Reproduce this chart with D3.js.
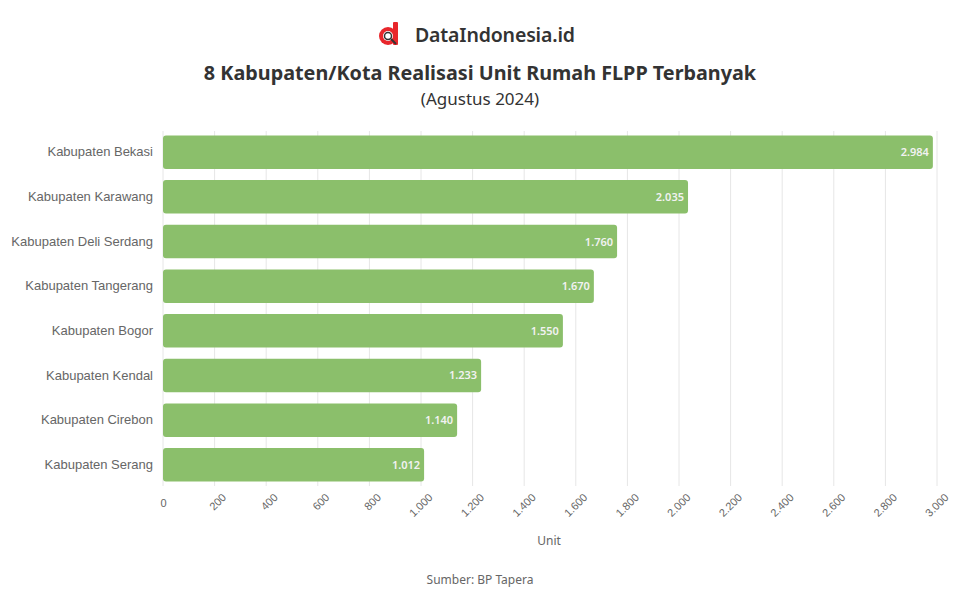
<!DOCTYPE html>
<html><head><meta charset="utf-8">
<script src="https://cdn.jsdelivr.net/npm/d3@7"></script>
<style>
body{margin:0;background:#fff;font-family:"Source Sans Pro","Noto Sans",sans-serif;}
</style></head>
<body><svg id="chart" width="960" height="600"></svg>
<script>
const categories = ["Kabupaten Bekasi","Kabupaten Karawang","Kabupaten Deli Serdang","Kabupaten Tangerang","Kabupaten Bogor","Kabupaten Kendal","Kabupaten Cirebon","Kabupaten Serang"];
const values = [2984, 2035, 1760, 1670, 1550, 1233, 1140, 1012];
const tickValues = [0,200,400,600,800,1000,1200,1400,1600,1800,2000,2200,2400,2600,2800,3000];
const titleText = "8 Kabupaten/Kota Realisasi Unit Rumah FLPP Terbanyak";
const subtitleText = "(Agustus 2024)";
const axisTitle = "Unit";
const sourceText = "Sumber: BP Tapera";

const svg = d3.select("#chart");
const fmt = d3.formatLocale({decimal:",",thousands:".",grouping:[3],currency:["",""]}).format(",");
const mLeft=163, mRight=937, mTop=131, mBottom=486;
const x = d3.scaleLinear().domain([0,3000]).range([mLeft,mRight]);
const y = d3.scaleBand().domain(categories).range([mTop,mBottom]).paddingInner(0.25).paddingOuter(0.1);

// logo
const logo = svg.append("g").attr("transform","translate(388,35)");
logo.append("circle").attr("r",9).attr("cx",0).attr("cy",1).attr("fill","#e8262b");
logo.append("rect").attr("x",5).attr("y",-13).attr("width",5).attr("height",23).attr("rx",1).attr("fill","#e8262b");
logo.append("circle").attr("r",5).attr("cx",0).attr("cy",1).attr("fill","#fff");
logo.append("circle").attr("r",3.5).attr("cx",0).attr("cy",1).attr("fill","none").attr("stroke","#333").attr("stroke-width",1.5);
logo.append("line").attr("x1",3).attr("y1",4).attr("x2",8).attr("y2",9).attr("stroke","#333").attr("stroke-width",2);
svg.append("text").attr("x",415).attr("y",42).attr("font-size",19.5).attr("font-weight",600).attr("fill","#333").attr("textLength",160).text("DataIndonesia.id");

svg.append("text").attr("x",480).attr("y",80).attr("text-anchor","middle").attr("font-size",19.8).attr("font-weight",700).attr("fill","#333").text(titleText);
svg.append("text").attr("x",480).attr("y",105).attr("text-anchor","middle").attr("font-size",17).attr("fill","#333").text(subtitleText);

// grid
svg.append("g").selectAll("line").data(tickValues).join("line")
  .attr("x1",d=>x(d)).attr("x2",d=>x(d)).attr("y1",mTop).attr("y2",mBottom)
  .attr("stroke","#e6e6e6").attr("stroke-width",1);

// bars
svg.append("g").selectAll("rect").data(values).join("rect")
  .attr("x",x(0)).attr("y",(d,i)=>y(categories[i]))
  .attr("width",d=>x(d)-x(0)).attr("height",y.bandwidth())
  .attr("rx",3).attr("fill","#8bbf6b");

svg.append("g").selectAll("text").data(values).join("text")
  .attr("x",d=>x(d)-4).attr("y",(d,i)=>y(categories[i])+y.bandwidth()/2+4)
  .attr("text-anchor","end").attr("font-size",11).attr("fill","#f2f2f2").attr("font-weight",600)
  .text(d=>fmt(d));

// y axis
const ya = svg.append("g").attr("transform",`translate(${mLeft},0)`).call(d3.axisLeft(y).tickSize(0).tickPadding(10));
ya.select(".domain").remove();
ya.selectAll("text").attr("font-size",13).attr("fill","#666").attr("font-family","inherit");

// x axis
const xa = svg.append("g").attr("transform",`translate(0,${mBottom+5})`).call(d3.axisBottom(x).tickValues(tickValues).tickSize(0).tickFormat(d=>fmt(d)));
xa.select(".domain").remove();
xa.selectAll("text").attr("font-size",11).attr("fill","#666").attr("font-family","inherit")
  .attr("text-anchor","end").attr("dy","0.4em").attr("dx","0.3em")
  .attr("transform","rotate(-45)").attr("y",9).attr("x",0);
xa.selectAll(".tick").each(function(d){ if(d===0){ d3.select(this).select("text").attr("transform",null).attr("text-anchor","middle").attr("dx",0).attr("y",12);} });

svg.append("text").attr("x",549).attr("y",545).attr("text-anchor","middle").attr("font-size",12).attr("fill","#666").text(axisTitle);
svg.append("text").attr("x",480).attr("y",584).attr("text-anchor","middle").attr("font-size",12).attr("fill","#666").text(sourceText);
</script></body></html>
